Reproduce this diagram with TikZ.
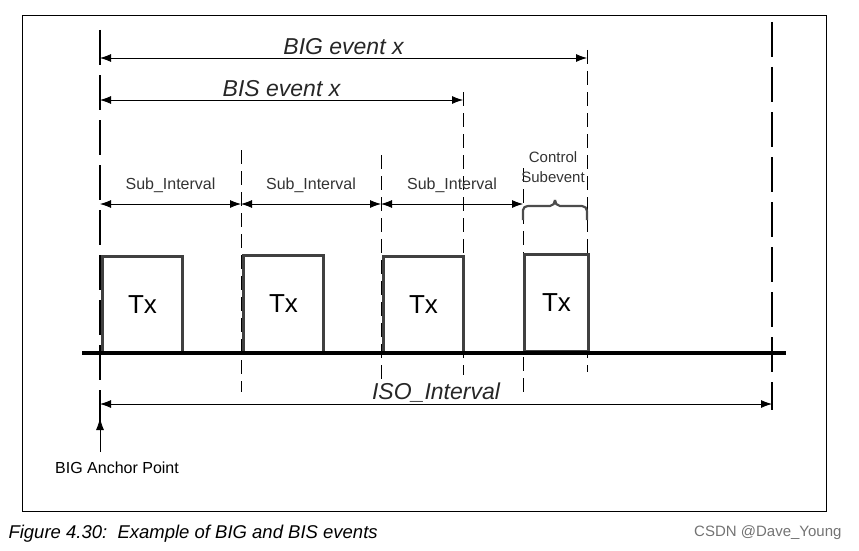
\documentclass[tikz,border=0pt]{standalone}
\usepackage{fontspec}
\setmainfont{Liberation Sans}
\usetikzlibrary{arrows.meta}
\begin{document}
\begin{tikzpicture}[x=1pt,y=-1pt,
  dim/.style={{Latex[length=11pt,width=8pt]}-{Latex[length=11pt,width=8pt]},line width=0.8pt},
  thin dash/.style={dash pattern=on 14pt off 7pt,line width=0.6pt},
  thick dash/.style={dash pattern=on 35pt off 10pt,line width=2pt},
  tx/.style={draw=black!75,line width=3pt,minimum width=80pt,minimum height=97pt,anchor=north west,inner sep=0pt,font=\fontsize{26}{28}\selectfont},
  lbl/.style={font=\fontsize{16}{18}\selectfont,text=black!80},
  big/.style={font=\itshape\fontsize{23}{26}\selectfont,text=black!85}]
\useasboundingbox (0,0) rectangle (859,551);
\draw[line width=0.5pt] (22,15) rectangle (826,511);
% vertical markers
\coordinate (a1) at (100,30); \coordinate (a2) at (100,430);
\draw[thick dash] (a1) -- (a2);
\coordinate (b1) at (772,22); \coordinate (b2) at (772,410);
\draw[thick dash] (b1) -- (b2);
\foreach \x/\t/\b in {241/150/392,381/155/380,463/92/375,523/168/392,587/50/372}
  \draw[thin dash] (\x,\t) -- (\x,\b);
% Tx boxes
\node[tx] (t1) at (101,255) {Tx};
\node[tx] (t2) at (242,254) {Tx};
\node[tx] (t3) at (382,255) {Tx};
\node[tx,minimum width=64pt] (t4) at (523,253) {Tx};
% baseline
\coordinate (l0) at (82,353); \coordinate (l1) at (786,353);
\draw[line width=3.5pt] (l0) -- (l1);
% dimension arrows
\coordinate (g0) at (100,58); \coordinate (g1) at (587,58);
\draw[dim] (g0) -- node[big,above=0pt] {BIG event x} (g1);
\coordinate (s0) at (100,100); \coordinate (s1) at (463,100);
\draw[dim] (s0) -- node[big,above=0pt] {BIS event x} (s1);
\coordinate (u0) at (100,204); \coordinate (u1) at (241,204);
\coordinate (u2) at (381,204); \coordinate (u3) at (523,204);
\draw[dim] (u0) -- node[lbl,above=8pt] {Sub\_Interval} (u1);
\draw[dim] (u1) -- node[lbl,above=8pt] {Sub\_Interval} (u2);
\draw[dim] (u2) -- node[lbl,above=8pt] {Sub\_Interval} (u3);
% brace
\draw[line width=2.2pt,black!70] (523,220) -- (523,210) to[out=90,in=180] (528,206) -- (550,206) to[out=0,in=-90] (555,200)
  (555,200) to[out=-90,in=180] (560,206) -- (582,206) to[out=0,in=90] (587,211) -- (587,220);
\node[lbl,align=center,font=\fontsize{15}{20}\selectfont] (cs) at (553,167) {Control\\Subevent};
% ISO interval
\coordinate (i0) at (100,404); \coordinate (i1) at (772,404);
\draw[dim] (i0) -- node[big,above=-2pt] {ISO\_Interval} (i1);
% anchor
\coordinate (an0) at (100,452); \coordinate (an1) at (100,418);
\draw[-{Latex[length=12pt,width=8pt]},line width=0.8pt] (an0) -- (an1);
\node[lbl,text=black] (anc) at (117,468) {BIG Anchor Point};
% caption
\node[anchor=west,font=\itshape\fontsize{18.5}{20}\selectfont] (cap) at (5,534) {Figure 4.30:\ \ Example of BIG and BIS events};
\node[anchor=east,text=black!55,font=\fontsize{15}{17}\selectfont] (wm) at (845,533) {CSDN @Dave\_Young};
\end{tikzpicture}
\end{document}
